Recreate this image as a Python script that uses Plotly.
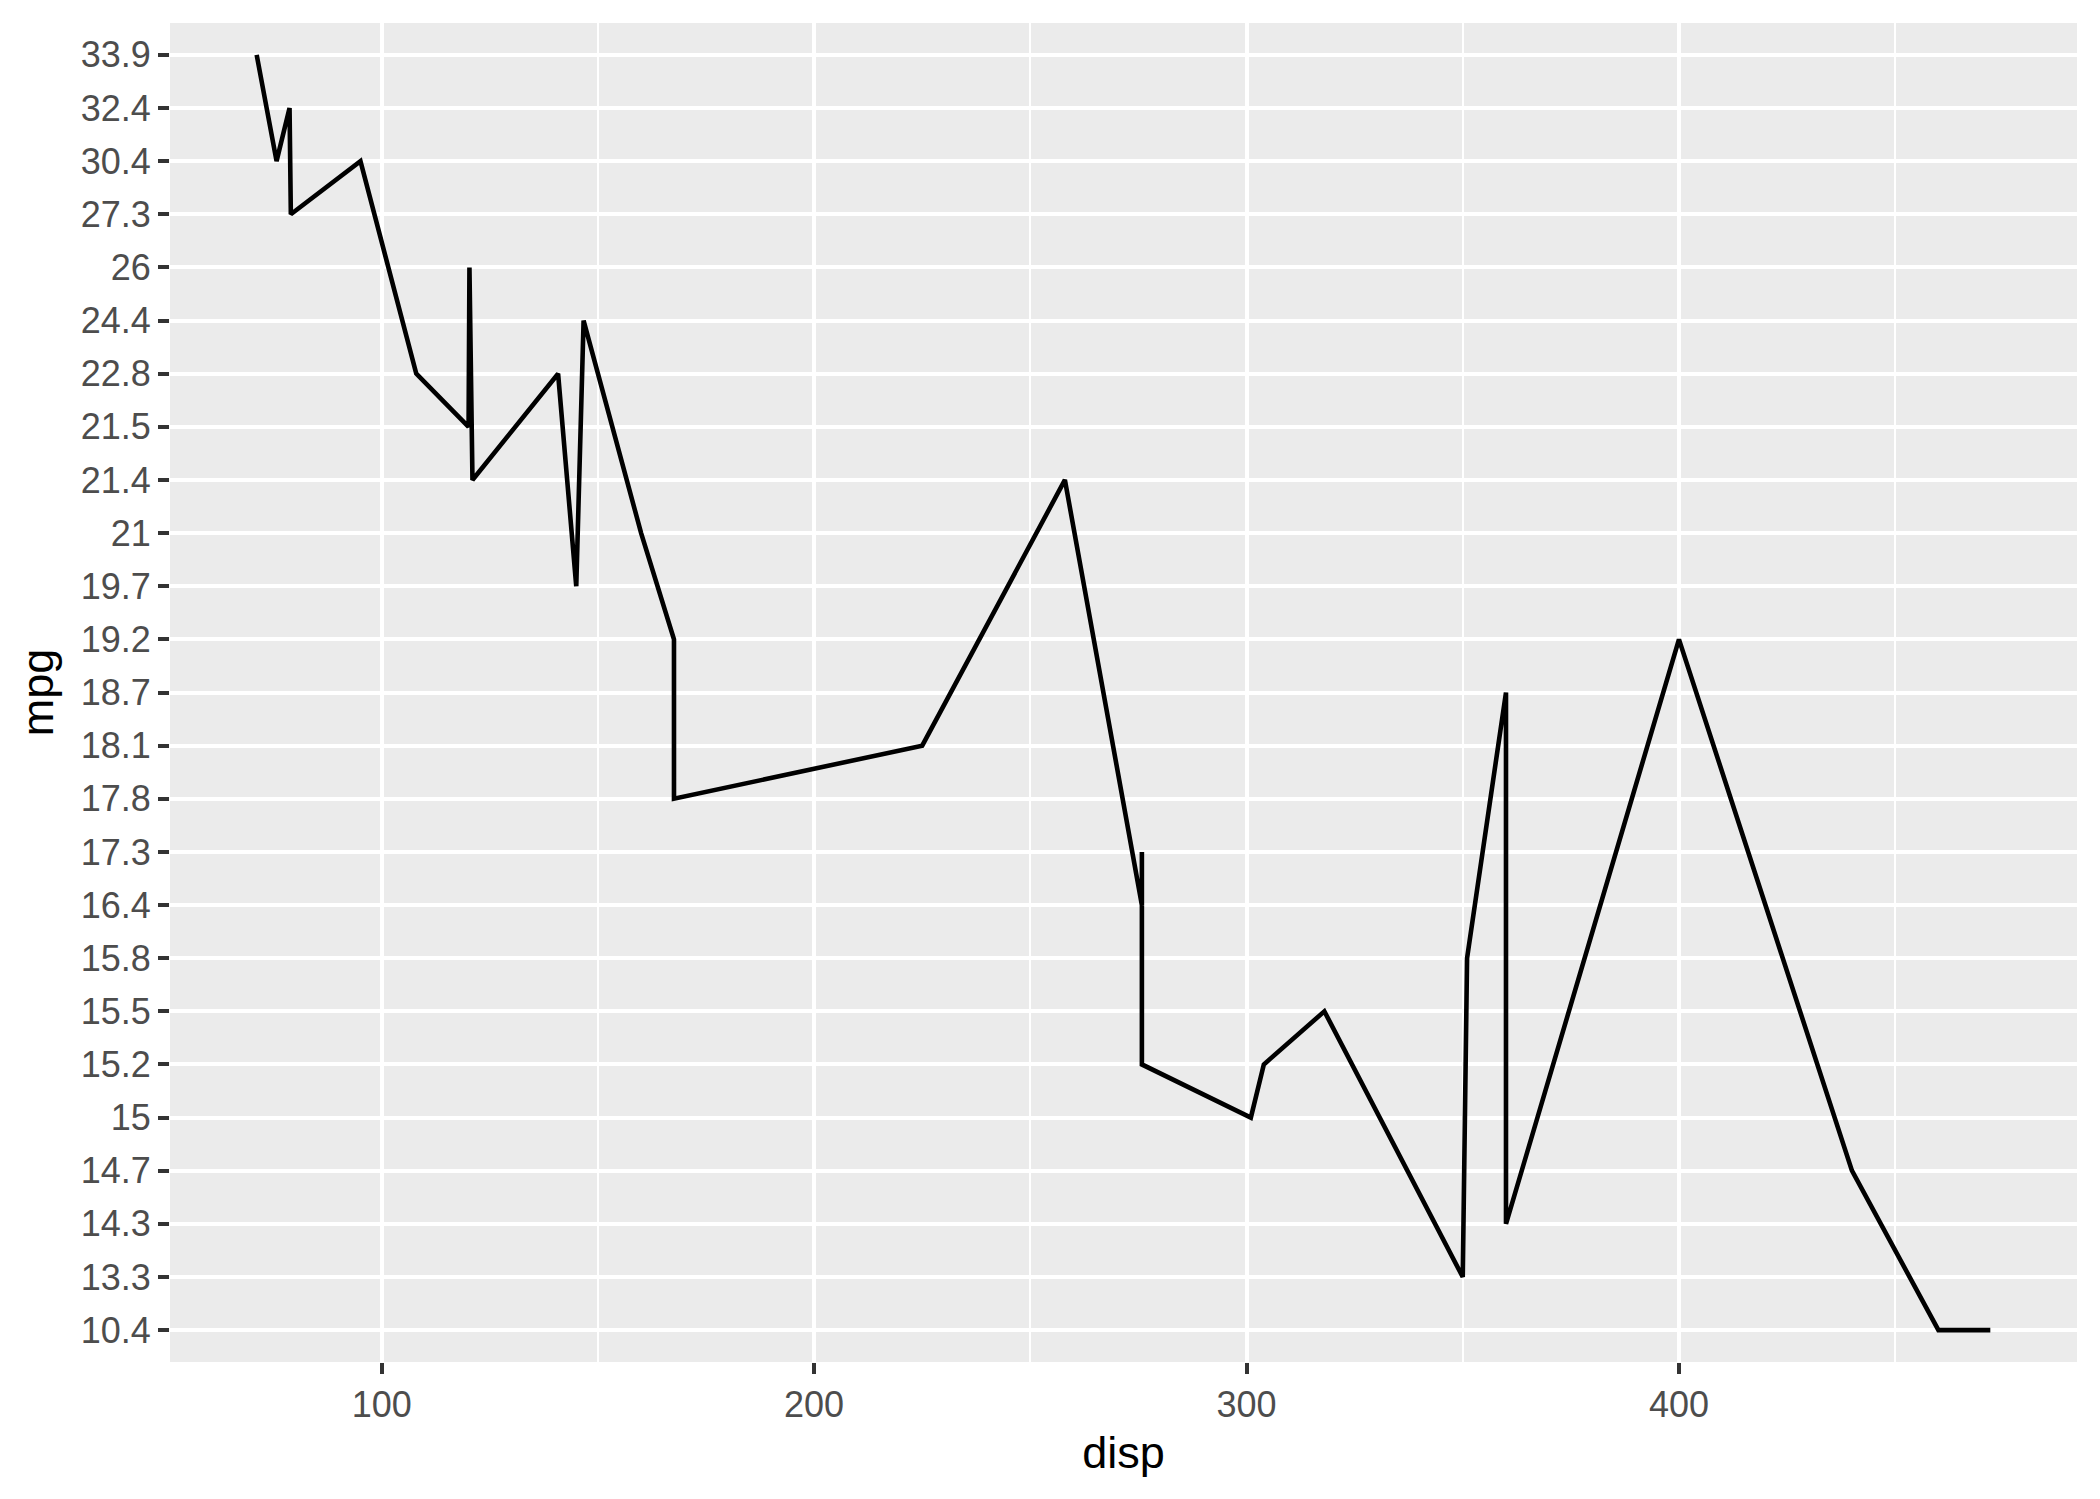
import plotly.graph_objects as go

# mtcars, ordered by disp (ties keep data order)
disp = [71.1, 75.7, 78.7, 79.0, 95.1, 108.0, 120.1, 120.3, 121.0, 140.8, 145.0, 146.7,
        160.0, 160.0, 167.6, 167.6, 225.0, 258.0, 275.8, 275.8, 275.8, 301.0, 304.0,
        318.0, 350.0, 351.0, 360.0, 360.0, 400.0, 440.0, 460.0, 472.0]
mpg = ["33.9", "30.4", "32.4", "27.3", "30.4", "22.8", "21.5", "26", "21.4", "22.8", "19.7", "24.4",
       "21", "21", "19.2", "17.8", "18.1", "21.4", "16.4", "17.3", "15.2", "15", "15.2",
       "15.5", "13.3", "15.8", "18.7", "14.3", "19.2", "14.7", "10.4", "10.4"]
mpg_levels = ["10.4", "13.3", "14.3", "14.7", "15", "15.2", "15.5", "15.8", "16.4", "17.3",
              "17.8", "18.1", "18.7", "19.2", "19.7", "21", "21.4", "21.5", "22.8", "24.4",
              "26", "27.3", "30.4", "32.4", "33.9"]
x_ticks = [100, 200, 300, 400]
x_minor = [150, 250, 350, 450]

FONT = "Liberation Sans"
TICK_COLOR = "#4D4D4D"

fig = go.Figure()
fig.add_trace(go.Scatter(x=disp, y=mpg, mode="lines",
                         line=dict(color="black", width=4.6), showlegend=False))

xmin, xmax = min(disp), max(disp)
pad = (xmax - xmin) * 0.05
n = len(mpg_levels)

# page body has an 8px default margin; compensate so the panel lands where the reference has it
fig.update_layout(
    width=2092, height=1491,
    margin=dict(l=162, r=23, t=15, b=137, pad=0),
    paper_bgcolor="white", plot_bgcolor="#EBEBEB",
    font=dict(family=FONT),
    xaxis=dict(
        range=[xmin - pad, xmax + pad], tickvals=x_ticks, ticktext=[str(v) for v in x_ticks],
        showgrid=True, gridcolor="white", gridwidth=4.2, zeroline=False,
        ticks="outside", ticklen=11, tickwidth=4, tickcolor="#333333",
        tickfont=dict(size=36, color=TICK_COLOR, family=FONT),
        minor=dict(tickvals=x_minor, showgrid=True, gridcolor="white", gridwidth=2.1, ticks=""),
        title=dict(text="disp", font=dict(size=45, color="black", family=FONT), standoff=12),
        showline=False,
    ),
    yaxis=dict(
        type="category", categoryorder="array", categoryarray=mpg_levels,
        range=[-0.6, n - 1 + 0.6],
        showgrid=True, gridcolor="white", gridwidth=4.2, zeroline=False,
        ticks="outside", ticklen=11, tickwidth=4, tickcolor="#333333",
        tickfont=dict(size=36, color=TICK_COLOR, family=FONT),
        title=dict(text="mpg", font=dict(size=45, color="black", family=FONT), standoff=12),
        showline=False,
    ),
)

fig.write_html("out.html")
